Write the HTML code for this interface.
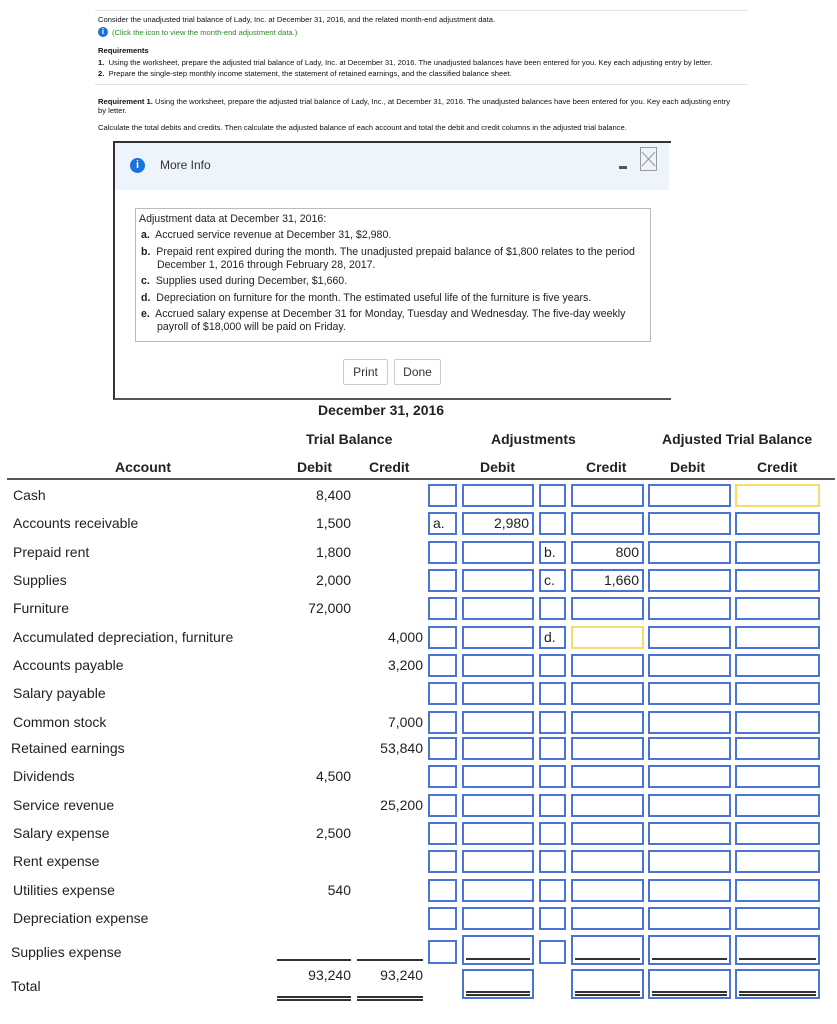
<!DOCTYPE html>
<html><head><meta charset="utf-8"><style>
body{margin:0;width:837px;height:1024px;background:#fff;position:relative;overflow:hidden;font-family:"Liberation Sans",Arial,sans-serif;color:#222}
.a{position:absolute;white-space:nowrap}
.s{font-size:7.6px;color:#111}
.t{font-size:14px;color:#222}
.b{font-weight:bold}
.r{text-align:right}
.box{position:absolute;border:2px solid #4a74d6;box-sizing:border-box;background:#fff;font-size:14px;color:#222}
.y{border-color:#f5dc6e}
.m{font-size:10.6px;color:#222}
</style></head><body>
<div class="a" style="left:95px;top:10px;width:653px;height:1px;background:#dde3ec"></div>
<div class="a s" style="left:98px;top:15px">Consider the unadjusted trial balance of Lady, Inc. at December 31, 2016, and the related month-end adjustment data.</div>
<div class="a" style="left:98px;top:27px;width:10px;height:10px;border-radius:50%;background:#1a73d9;color:#fff;font-size:8px;font-weight:bold;text-align:center;line-height:10px">i</div>
<div class="a s" style="left:112px;top:28px;color:#2b8a2b">(Click the icon to view the month-end adjustment data.)</div>
<div class="a s b" style="left:98px;top:46px">Requirements</div>
<div class="a s" style="left:98px;top:58px"><b>1.</b>&nbsp; Using the worksheet, prepare the adjusted trial balance of Lady, Inc. at December 31, 2016. The unadjusted balances have been entered for you. Key each adjusting entry by letter.</div>
<div class="a s" style="left:98px;top:69px"><b>2.</b>&nbsp; Prepare the single-step monthly income statement, the statement of retained earnings, and the classified balance sheet.</div>
<div class="a" style="left:95px;top:84px;width:653px;height:1px;background:#dde3ec"></div>
<div class="a s" style="left:98px;top:97px"><b>Requirement 1.</b> Using the worksheet, prepare the adjusted trial balance of Lady, Inc., at December 31, 2016. The unadjusted balances have been entered for you. Key each adjusting entry</div>
<div class="a s" style="left:98px;top:106px">by letter.</div>
<div class="a s" style="left:98px;top:123px">Calculate the total debits and credits. Then calculate the adjusted balance of each account and total the debit and credit columns in the adjusted trial balance.</div>

<div class="a" style="left:113px;top:141px;width:556px;height:255px;border-left:2px solid #333;border-top:2px solid #333;border-bottom:2px solid #555;background:#fff"></div>
<div class="a" style="left:115px;top:143px;width:554px;height:47px;background:#eef4fb"></div>
<div class="a" style="left:130px;top:158px;width:15px;height:15px;border-radius:50%;background:#1a73d9;color:#fff;font-size:11px;font-weight:bold;text-align:center;line-height:15px">i</div>
<div class="a" style="left:160px;top:158px;font-size:12px;color:#333">More Info</div>
<div class="a" style="left:619px;top:166px;width:8px;height:3px;background:#555"></div>
<div class="a" style="left:640px;top:147px;width:17px;height:24px;border:1px solid #999;box-sizing:border-box"><svg width="15" height="22"><line x1="1" y1="4" x2="14" y2="18" stroke="#999"/><line x1="14" y1="4" x2="1" y2="18" stroke="#999"/></svg></div>
<div class="a" style="left:135px;top:208px;width:516px;height:134px;border:1px solid #bbb;box-sizing:border-box"></div>
<div class="a m" style="left:139px;top:213px">Adjustment data at December 31, 2016:</div>
<div class="a m" style="left:141px;top:229px"><b>a.</b>&nbsp; Accrued service revenue at December 31, $2,980.</div>
<div class="a m" style="left:141px;top:246px"><b>b.</b>&nbsp; Prepaid rent expired during the month. The unadjusted prepaid balance of $1,800 relates to the period</div>
<div class="a m" style="left:157px;top:259px">December 1, 2016 through February 28, 2017.</div>
<div class="a m" style="left:141px;top:275px"><b>c.</b>&nbsp; Supplies used during December, $1,660.</div>
<div class="a m" style="left:141px;top:292px"><b>d.</b>&nbsp; Depreciation on furniture for the month. The estimated useful life of the furniture is five years.</div>
<div class="a m" style="left:141px;top:308px"><b>e.</b>&nbsp; Accrued salary expense at December 31 for Monday, Tuesday and Wednesday. The five-day weekly</div>
<div class="a m" style="left:157px;top:321px">payroll of $18,000 will be paid on Friday.</div>
<div class="a" style="left:343px;top:359px;width:45px;height:26px;border:1px solid #ccc;border-radius:2px;box-sizing:border-box;font-size:12px;text-align:center;line-height:24px;color:#333">Print</div>
<div class="a" style="left:394px;top:359px;width:47px;height:26px;border:1px solid #ccc;border-radius:2px;box-sizing:border-box;font-size:12px;text-align:center;line-height:24px;color:#333">Done</div>

<div class="a t b" style="left:318px;top:402px">December 31, 2016</div>
<div class="a t b" style="left:306px;top:431px">Trial Balance</div>
<div class="a t b" style="left:491px;top:431px">Adjustments</div>
<div class="a t b" style="left:662px;top:431px">Adjusted Trial Balance</div>
<div class="a t b" style="left:115px;top:459px">Account</div>
<div class="a t b" style="left:297px;top:459px">Debit</div>
<div class="a t b" style="left:369px;top:459px">Credit</div>
<div class="a t b" style="left:480px;top:459px">Debit</div>
<div class="a t b" style="left:586px;top:459px">Credit</div>
<div class="a t b" style="left:670px;top:459px">Debit</div>
<div class="a t b" style="left:757px;top:459px">Credit</div>
<div class="a" style="left:7px;top:478px;width:828px;height:2px;background:#555"></div>

<div id="rows"></div>
<script>
var tops=[484,512,541,569,597,626,654,682,711,737,765,794,822,850,879,907];
var names=["Cash","Accounts receivable","Prepaid rent","Supplies","Furniture","Accumulated depreciation, furniture","Accounts payable","Salary payable","Common stock","Retained earnings","Dividends","Service revenue","Salary expense","Rent expense","Utilities expense","Depreciation expense"];
var deb=["8,400","1,500","1,800","2,000","72,000","","","","","","4,500","","2,500","","540",""];
var cre=["","","","","","4,000","3,200","","7,000","53,840","","25,200","","","",""];
var cols=[[428,29],[462,72],[539,27],[571,73],[648,83],[735,85]];
var h="";
function box(x,y,w,hh,cls,txt,al){h+='<div class="box '+(cls||'')+'" style="left:'+x+'px;top:'+y+'px;width:'+w+'px;height:'+hh+'px;line-height:'+(hh-4)+'px;text-align:'+(al||'left')+';padding:0 3px">'+(txt||'')+'</div>';}
for(var i=0;i<16;i++){
 var t=tops[i];
 h+='<div class="a t" style="left:'+(i==9?11:13)+'px;top:'+(t+3)+'px">'+names[i]+'</div>';
 if(deb[i])h+='<div class="a t r" style="left:280px;width:71px;top:'+(t+3)+'px">'+deb[i]+'</div>';
 if(cre[i])h+='<div class="a t r" style="left:350px;width:73px;top:'+(t+3)+'px">'+cre[i]+'</div>';
 for(var c=0;c<6;c++){
  var txt="",cls="",al="left";
  if(i==0&&c==5)cls="y";
  if(i==1&&c==0)txt="a.";
  if(i==1&&c==1){txt="2,980";al="right";}
  if(i==2&&c==2)txt="b.";
  if(i==2&&c==3){txt="800";al="right";}
  if(i==3&&c==2)txt="c.";
  if(i==3&&c==3){txt="1,660";al="right";}
  if(i==5&&c==2)txt="d.";
  if(i==5&&c==3)cls="y";
  box(cols[c][0],t,cols[c][1],23,cls,txt,al);
 }
}
h+='<div class="a t" style="left:11px;top:944px">Supplies expense</div>';
h+='<div class="a t" style="left:11px;top:978px">Total</div>';
h+='<div class="a" style="left:277px;top:959px;width:74px;height:2px;background:#333"></div>';
h+='<div class="a" style="left:357px;top:959px;width:66px;height:2px;background:#333"></div>';
h+='<div class="a t r" style="left:280px;width:71px;top:967px">93,240</div>';
h+='<div class="a t r" style="left:350px;width:73px;top:967px">93,240</div>';
h+='<div class="a" style="left:277px;top:996px;width:74px;height:5px;border-top:2px solid #333;border-bottom:2px solid #333;box-sizing:border-box"></div>';
h+='<div class="a" style="left:357px;top:996px;width:66px;height:5px;border-top:2px solid #333;border-bottom:2px solid #333;box-sizing:border-box"></div>';
for(var c=0;c<6;c++){
 var x=cols[c][0],w=cols[c][1];
 if(c==0||c==2){box(x,940,w,24);continue;}
 box(x,935,w,30);
 h+='<div class="a" style="left:'+(x+4)+'px;top:958px;width:'+(w-8)+'px;height:2px;background:#333"></div>';
 box(x,969,w,30);
 h+='<div class="a" style="left:'+(x+4)+'px;top:991px;width:'+(w-8)+'px;height:5px;border-top:2px solid #333;border-bottom:2px solid #333;box-sizing:border-box"></div>';
}
document.getElementById("rows").innerHTML=h;
</script>
</body></html>
